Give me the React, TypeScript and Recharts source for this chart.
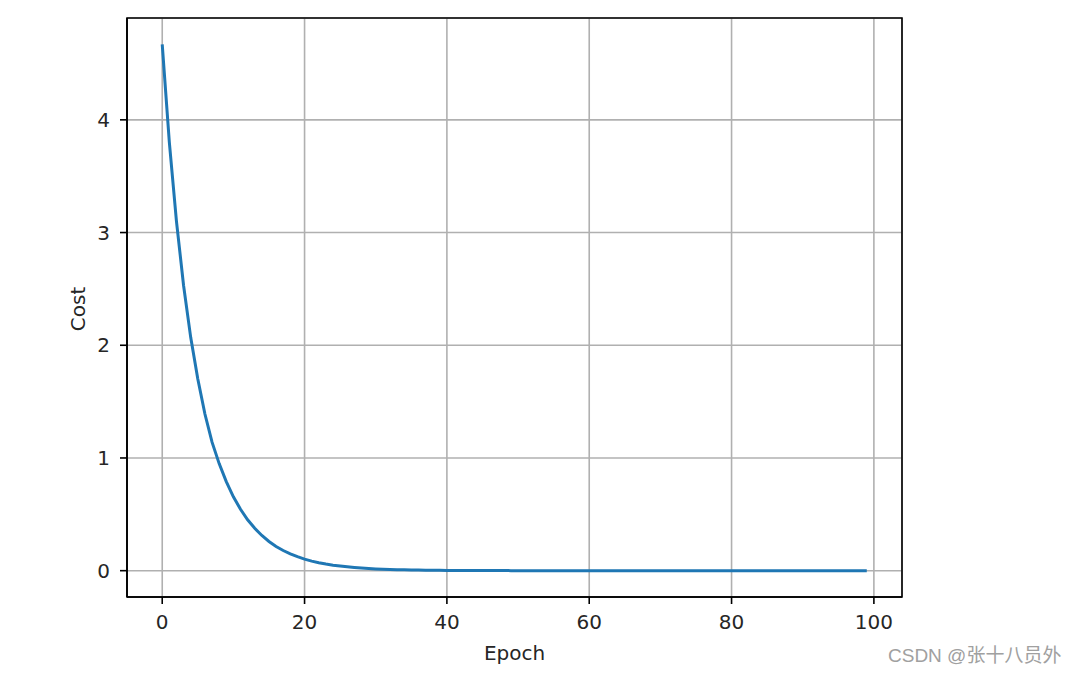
import {
  LineChart,
  Line,
  XAxis,
  YAxis,
  CartesianGrid,
  ReferenceArea,
  Label,
} from 'recharts';

// Cost per epoch (epochs 0..99)
const COSTS: number[] = [
  4.67, 3.8, 3.1, 2.53, 2.07, 1.7, 1.39, 1.14, 0.95, 0.79,
  0.655, 0.545, 0.452, 0.376, 0.312, 0.259, 0.215, 0.179, 0.149, 0.124,
  0.103, 0.085, 0.071, 0.059, 0.049, 0.041, 0.034, 0.028, 0.023, 0.019,
  0.016, 0.013, 0.011, 0.009, 0.0076, 0.0063, 0.0052, 0.0043, 0.0036, 0.003,
  0.0025, 0.0021, 0.0017, 0.0014, 0.0012, 0.001, 0.0008, 0.0007, 0.0006, 0.0005,
  0.0004, 0.0003, 0.0003, 0.0002, 0.0002, 0.0002, 0.0001, 0.0001, 0.0001, 0.0001,
  0.0001, 0.0001, 0.0001, 0.0001, 0.0001, 0.0001, 0, 0, 0, 0,
  0, 0, 0, 0, 0, 0, 0, 0, 0, 0,
  0, 0, 0, 0, 0, 0, 0, 0, 0, 0,
  0, 0, 0, 0, 0, 0, 0, 0, 0, 0,
];

const X_TICKS = [0, 20, 40, 60, 80, 100];
const Y_TICKS = [0, 1, 2, 3, 4];
const X_DOMAIN: [number, number] = [-4.95, 103.95];
const Y_DOMAIN: [number, number] = [-0.2335, 4.9035];

const data = COSTS.map((cost, epoch) => ({ epoch, cost }));

const FONT = 'DejaVu Sans, sans-serif';
const TICK = { fill: '#262626', fontSize: 20, fontFamily: FONT };
const SPINE = { stroke: '#000', strokeWidth: 1.6 };

export default function App() {
  return (
    <div
      style={{
        position: 'absolute',
        left: 0,
        top: 0,
        width: 1075,
        height: 676,
        background: '#fff',
      }}
    >
      <LineChart
        width={1075}
        height={676}
        data={data}
        margin={{ top: 18, right: 173, bottom: 0, left: 0 }}
      >
        <CartesianGrid
          xAxisId="x"
          yAxisId="y"
          stroke="#b0b0b0"
          strokeWidth={1.6}
        />
        <XAxis
          xAxisId="x"
          dataKey="epoch"
          type="number"
          domain={X_DOMAIN}
          ticks={X_TICKS}
          allowDataOverflow
          height={79}
          tick={TICK}
          tickSize={7}
          tickMargin={11}
          tickLine={SPINE}
          axisLine={SPINE}
        >
          <Label
            content={({ viewBox }: any) => (
              <text
                x={viewBox.x + viewBox.width / 2}
                y={viewBox.y + 63}
                textAnchor="middle"
                fill="#262626"
                fontSize={20}
                fontFamily={FONT}
              >
                Epoch
              </text>
            )}
          />
        </XAxis>
        <YAxis
          yAxisId="y"
          type="number"
          domain={Y_DOMAIN}
          ticks={Y_TICKS}
          allowDataOverflow
          width={127}
          tick={TICK}
          tickSize={7}
          tickMargin={10}
          tickLine={SPINE}
          axisLine={SPINE}
        >
          <Label
            content={({ viewBox }: any) => {
              const cx = viewBox.x + 85;
              const cy = viewBox.y + viewBox.height / 2 + 1.5;
              return (
                <text
                  x={cx}
                  y={cy}
                  transform={`rotate(-90 ${cx} ${cy})`}
                  textAnchor="middle"
                  fill="#262626"
                  fontSize={20}
                  fontFamily={FONT}
                >
                  Cost
                </text>
              );
            }}
          />
        </YAxis>
        <ReferenceArea
          xAxisId="x"
          yAxisId="y"
          x1={X_DOMAIN[0]}
          x2={X_DOMAIN[1]}
          y1={Y_DOMAIN[0]}
          y2={Y_DOMAIN[1]}
          fill="none"
          stroke="#000"
          strokeWidth={1.6}
          ifOverflow="visible"
        />
        <Line
          xAxisId="x"
          yAxisId="y"
          type="linear"
          dataKey="cost"
          stroke="#1f77b4"
          strokeWidth={3}
          dot={false}
          isAnimationActive={false}
        />
      </LineChart>
      <div
        style={{
          position: 'absolute',
          left: 888,
          top: 646,
          fontSize: 19,
          lineHeight: '19px',
          color: '#a0a0a0',
          fontFamily: '"Liberation Sans", "Noto Sans CJK SC", sans-serif',
          whiteSpace: 'nowrap',
        }}
      >
        CSDN @张十八员外
      </div>
    </div>
  );
}
